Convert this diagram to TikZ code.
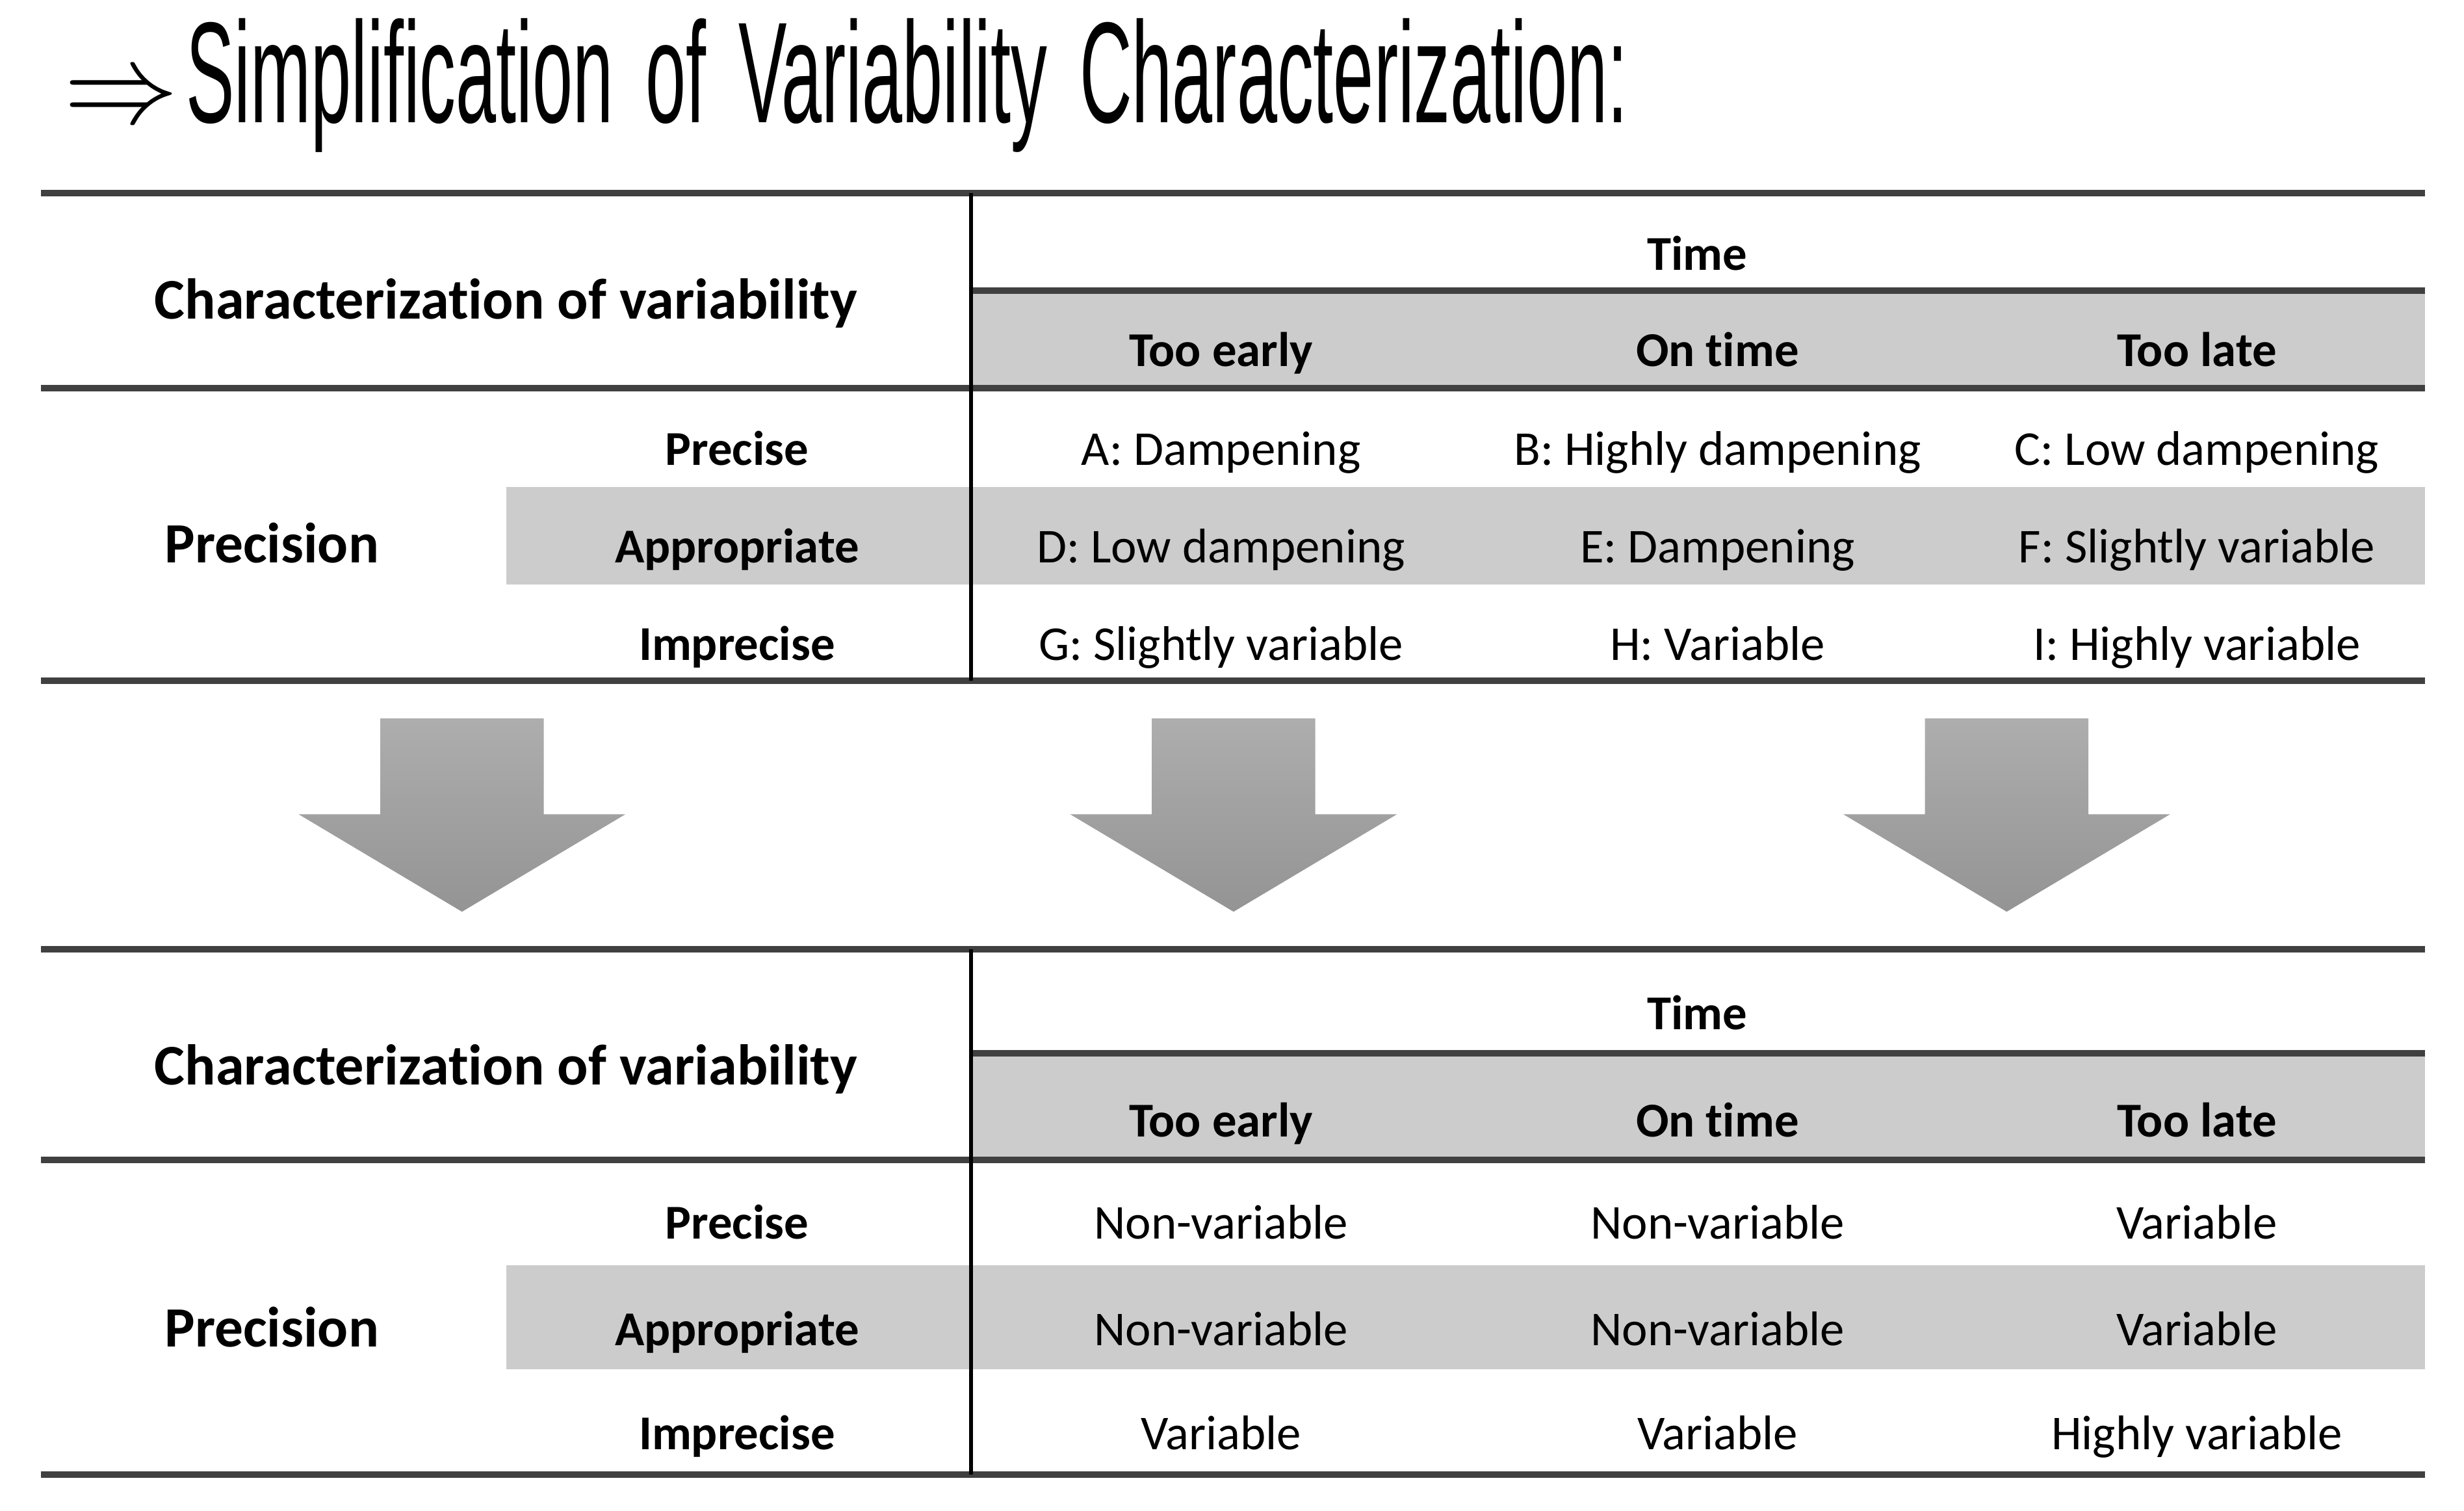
\documentclass[tikz,border=0pt]{standalone}
\usepackage{fontspec}
\setmainfont{Carlito}[Ligatures={NoCommon,NoRare,NoDiscretionary}]
\newfontfamily\titlefont{Liberation Sans}
\begin{document}
\begin{tikzpicture}[x=0.01cm,y=-0.01cm,
  rule/.style={draw=black!75,line width=1.2pt},
  thin/.style={draw=black,line width=0.7pt},
  band/.style={fill=black!20,draw=none},
  cell/.style={font=\fontsize{8.8}{10}\selectfont,inner sep=0pt,anchor=base},
  hcell/.style={font=\fontsize{8.8}{10}\selectfont\bfseries,inner sep=0pt,anchor=base},
  chcell/.style={font=\fontsize{10.4}{12}\selectfont\bfseries,inner sep=0pt,anchor=base},
  bigcell/.style={font=\fontsize{10.3}{12}\selectfont\bfseries,inner sep=0pt,anchor=base},
  bigarrow/.style={top color=black!32,bottom color=black!42,draw=none}]
\useasboundingbox (0,0) rectangle (1568,961);
\node[anchor=base west,inner sep=0pt,font=\fontsize{20}{24}\selectfont] (arr) at (40,78) {$\Rightarrow$};
\node[anchor=base west,inner sep=0pt,xscale=0.505,font=\titlefont\fontsize{26}{30}\selectfont] (title) at (118,78) {Simplification\, of\, Variability\, Characterization:};

\fill[band] (618,185) rectangle (1543,247);
\fill[band] (322,310) rectangle (1543,372);
\fill[band] (618,670) rectangle (1543,738);
\fill[band] (322,805) rectangle (1543,871);
% top table
\draw[rule] (26,123) -- (1543,123);
\draw[rule] (618,185) -- (1543,185);
\draw[rule] (26,247) -- (1543,247);
\draw[rule] (26,433) -- (1543,433);
\draw[thin] (618,123) -- (618,433);
\node[chcell] (c1) at (322,203) {Characterization of variability};
\node[hcell] (t1) at (1080,172) {Time};
\node[hcell] at (777,233) {Too early};
\node[hcell] at (1093,233) {On time};
\node[hcell] at (1398,233) {Too late};
\node[bigcell] (p1) at (173,358) {Precision};
\node[hcell] at (469,296) {Precise};
\node[hcell] at (469,358) {Appropriate};
\node[hcell] at (469,420) {Imprecise};
\node[cell] at (777,296) {A: Dampening};
\node[cell] at (1093,296) {B: Highly dampening};
\node[cell] at (1398,296) {C: Low dampening};
\node[cell] at (777,358) {D: Low dampening};
\node[cell] at (1093,358) {E: Dampening};
\node[cell] at (1398,358) {F: Slightly variable};
\node[cell] at (777,420) {G: Slightly variable};
\node[cell] at (1093,420) {H: Variable};
\node[cell] at (1398,420) {I: Highly variable};
% arrows
\foreach \cx in {294,785,1277}{
\path[bigarrow] (\cx-52,457) -- (\cx+52,457) -- (\cx+52,518) -- (\cx+104,518) -- (\cx,580) -- (\cx-104,518) -- (\cx-52,518) -- cycle;}
% bottom table
\draw[rule] (26,604) -- (1543,604);
\draw[rule] (618,670) -- (1543,670);
\draw[rule] (26,738) -- (1543,738);
\draw[rule] (26,938) -- (1543,938);
\draw[thin] (618,604) -- (618,938);
\node[chcell] (c2) at (322,690) {Characterization of variability};
\node[hcell] (t2) at (1080,655) {Time};
\node[hcell] at (777,723) {Too early};
\node[hcell] at (1093,723) {On time};
\node[hcell] at (1398,723) {Too late};
\node[bigcell] (p2) at (173,857) {Precision};
\node[hcell] at (469,788) {Precise};
\node[hcell] at (469,856) {Appropriate};
\node[hcell] at (469,922) {Imprecise};
\node[cell] at (777,788) {Non-variable};
\node[cell] at (1093,788) {Non-variable};
\node[cell] at (1398,788) {Variable};
\node[cell] at (777,856) {Non-variable};
\node[cell] at (1093,856) {Non-variable};
\node[cell] at (1398,856) {Variable};
\node[cell] at (777,922) {Variable};
\node[cell] at (1093,922) {Variable};
\node[cell] at (1398,922) {Highly variable};
\end{tikzpicture}
\end{document}
